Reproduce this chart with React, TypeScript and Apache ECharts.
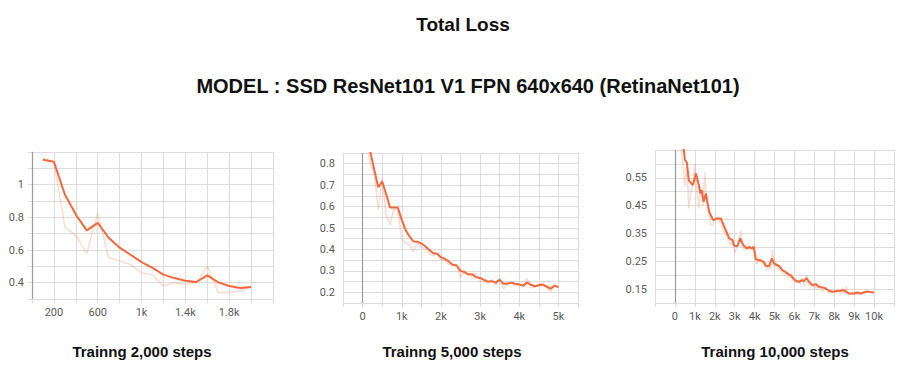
import React, { useEffect, useRef } from "react";
import * as echarts from "echarts";

const mainTitle = "Total Loss";
const modelTitle = "MODEL : SSD ResNet101 V1 FPN 640x640 (RetinaNet101)";
const subTitles = ["Trainng 2,000 steps", "Trainng 5,000 steps", "Trainng 10,000 steps"];

// Chart 1: 2,000 steps
const steps1 = [100, 200, 300, 400, 500, 600, 700, 800, 900, 1000, 1100, 1200, 1300, 1400, 1500, 1600, 1700, 1800, 1900, 2000];
const smooth1 = [1.152, 1.14, 0.94, 0.817, 0.72, 0.766, 0.675, 0.614, 0.571, 0.526, 0.49, 0.449, 0.428, 0.412, 0.404, 0.445, 0.402, 0.38, 0.368, 0.374];
const raw1 = [1.16, 1.14, 0.74, 0.69, 0.58, 0.825, 0.553, 0.535, 0.51, 0.46, 0.449, 0.38, 0.4, 0.39, 0.4, 0.5, 0.34, 0.34, 0.35, 0.375];

// Chart 2: 5,000 steps
const steps2 = [100, 200, 300, 400, 500, 600, 700, 800, 900, 1000, 1100, 1200, 1300, 1400, 1500, 1600, 1700, 1800, 1900, 2000, 2100, 2200, 2300, 2400, 2500, 2600, 2700, 2800, 2900, 3000, 3100, 3200, 3300, 3400, 3500, 3600, 3700, 3800, 3900, 4000, 4100, 4200, 4300, 4400, 4500, 4600, 4700, 4800, 4900, 5000];
const smooth2 = [0.93, 0.855, 0.77, 0.69, 0.717, 0.66, 0.596, 0.596, 0.596, 0.538, 0.49, 0.46, 0.437, 0.436, 0.428, 0.415, 0.398, 0.383, 0.38, 0.364, 0.356, 0.344, 0.328, 0.325, 0.3, 0.294, 0.284, 0.284, 0.27, 0.267, 0.258, 0.25, 0.252, 0.245, 0.258, 0.24, 0.24, 0.245, 0.24, 0.236, 0.231, 0.245, 0.235, 0.228, 0.233, 0.236, 0.227, 0.217, 0.23, 0.225];
const raw2 = [0.9, 0.8, 0.75, 0.585, 0.735, 0.56, 0.515, 0.59, 0.58, 0.45, 0.43, 0.42, 0.39, 0.43, 0.41, 0.4, 0.38, 0.37, 0.385, 0.35, 0.35, 0.33, 0.325, 0.33, 0.27, 0.3, 0.28, 0.27, 0.29, 0.25, 0.25, 0.24, 0.26, 0.235, 0.265, 0.215, 0.245, 0.24, 0.23, 0.24, 0.225, 0.265, 0.22, 0.225, 0.24, 0.235, 0.22, 0.205, 0.24, 0.22];

// Chart 3: 10,000 steps
const steps3 = [400, 500, 600, 700, 900, 1000, 1050, 1200, 1270, 1350, 1440, 1550, 1720, 1920, 2140, 2310, 2480, 2730, 2890, 2980, 3140, 3280, 3430, 3610, 3730, 3860, 3950, 4060, 4260, 4450, 4570, 4730, 4870, 4980, 5230, 5400, 5540, 5700, 5820, 5950, 6070, 6240, 6370, 6490, 6600, 6740, 6910, 7070, 7240, 7410, 7580, 7740, 7910, 8110, 8280, 8500, 8610, 8750, 9000, 9160, 9330, 9580, 9780, 10000];
const smooth3 = [0.68, 0.615, 0.605, 0.54, 0.524, 0.55, 0.566, 0.524, 0.494, 0.506, 0.464, 0.494, 0.428, 0.398, 0.404, 0.404, 0.374, 0.332, 0.326, 0.305, 0.305, 0.332, 0.308, 0.296, 0.302, 0.296, 0.302, 0.257, 0.254, 0.248, 0.233, 0.233, 0.26, 0.242, 0.233, 0.218, 0.212, 0.204, 0.2, 0.188, 0.18, 0.176, 0.182, 0.179, 0.19, 0.176, 0.164, 0.168, 0.158, 0.156, 0.152, 0.144, 0.14, 0.143, 0.144, 0.146, 0.14, 0.134, 0.134, 0.138, 0.134, 0.14, 0.14, 0.138];
const rawSteps3 = [300, 400, 500, 600, 700, 800, 900, 1000, 1100, 1200, 1300, 1400, 1500, 1600, 1700, 1800, 1900, 2000, 2100, 2200, 2300, 2400, 2500, 2600, 2700, 2800, 2900, 3000, 3100, 3200, 3300, 3400, 3500, 3600, 3700, 3800, 3900, 4000, 4100, 4200, 4300, 4400, 4500, 4600, 4700, 4800, 4900, 5000, 5100, 5200, 5300, 5400, 5500, 5600, 5700, 5800, 5900, 6000, 6100, 6200, 6300, 6400, 6500, 6600, 6700, 6800, 6900, 7000, 7100, 7200, 7300, 7400, 7500, 7600, 7700, 7800, 7900, 8000, 8100, 8200, 8300, 8400, 8500, 8600, 8700, 8800, 8900, 9000, 9100, 9200, 9300, 9400, 9500, 9600, 9700, 9800, 9900, 10000];
const raw3 = [0.66, 0.6, 0.52, 0.6, 0.44, 0.5, 0.52, 0.6, 0.5, 0.44, 0.52, 0.45, 0.57, 0.46, 0.43, 0.38, 0.38, 0.4, 0.41, 0.39, 0.4, 0.37, 0.35, 0.34, 0.32, 0.31, 0.33, 0.28, 0.3, 0.31, 0.36, 0.3, 0.29, 0.31, 0.29, 0.3, 0.29, 0.31, 0.24, 0.25, 0.26, 0.24, 0.24, 0.22, 0.23, 0.22, 0.29, 0.23, 0.24, 0.22, 0.22, 0.21, 0.2, 0.21, 0.19, 0.2, 0.18, 0.18, 0.17, 0.18, 0.17, 0.19, 0.16, 0.2, 0.17, 0.16, 0.17, 0.15, 0.17, 0.15, 0.16, 0.14, 0.15, 0.15, 0.14, 0.135, 0.14, 0.145, 0.135, 0.15, 0.13, 0.155, 0.13, 0.16, 0.13, 0.135, 0.13, 0.14, 0.13, 0.135, 0.13, 0.14, 0.135, 0.145, 0.14, 0.135, 0.14, 0.135];

const SMOOTH_COLOR = "#f2693d";
const RAW_COLOR = "rgba(245,125,90,0.28)";
const GRID_COLOR = "#dcdcdc";
const ZERO_COLOR = "#9a9a9a";
const LABEL_COLOR = "#5a5a5a";
const FONT = "Roboto, 'Liberation Sans', sans-serif";

const zip = (xs: number[], ys: number[]) => xs.map((x, i) => [x, ys[i]]);

const kFmt = (v: number) => (Math.abs(v) >= 1000 ? `${v / 1000}k` : `${v}`);

export default function App() {
  const ref = useRef<HTMLDivElement>(null);
  useEffect(() => {
    if (!ref.current) return;
    const chart = echarts.init(ref.current, undefined, { renderer: "svg" });

    const grids = [
      { left: 32, top: 152, width: 241, height: 147 },
      { left: 343, top: 153, width: 235, height: 150 },
      { left: 655, top: 150, width: 239, height: 153 },
    ];

    const xDefs = [
      { min: 0, max: 2200, interval: 200, fmt: (v: number) => (v <= 2000 && v % 400 === 200 ? kFmt(v) : "") },
      { min: -500, max: 5500, interval: 500, fmt: (v: number) => (v >= 0 && v <= 5000 && v % 1000 === 0 ? kFmt(v) : "") },
      { min: -1000, max: 11000, interval: 1000, fmt: (v: number) => (v >= 0 && v <= 10000 ? kFmt(v) : "") },
    ];
    const yDefs = [
      {
        min: 0.3, max: 1.2, interval: 0.1,
        fmt: (v: number) => { const r = Math.round(v * 10); return r % 2 === 0 && r >= 4 && r <= 10 ? String(r / 10) : ""; },
      },
      {
        min: 0.15, max: 0.85, interval: 0.05,
        fmt: (v: number) => { const r = Math.round(v * 20); return r % 2 === 0 ? String(r / 20) : ""; },
      },
      {
        min: 0.1, max: 0.65, interval: 0.05,
        fmt: (v: number) => { const r = Math.round(v * 20); return r % 2 === 1 && r <= 11 ? (r / 20).toFixed(2) : ""; },
      },
    ];

    const xAxis = xDefs.map((d, i) => ({
      type: "value",
      gridIndex: i,
      min: d.min,
      max: d.max,
      interval: d.interval,
      axisLine: { show: true, lineStyle: { color: GRID_COLOR, width: 1 } },
      axisTick: { show: true, length: 4, lineStyle: { color: GRID_COLOR } },
      splitLine: { show: true, lineStyle: { color: GRID_COLOR, width: 1 } },
      axisLabel: { color: LABEL_COLOR, fontSize: 11, fontFamily: FONT, margin: 8, formatter: d.fmt, showMinLabel: true, showMaxLabel: true },
    }));
    const yAxis = yDefs.map((d, i) => ({
      type: "value",
      gridIndex: i,
      min: d.min,
      max: d.max,
      interval: d.interval,
      axisLine: { show: true, lineStyle: { color: GRID_COLOR, width: 1 } },
      axisTick: { show: true, length: 4, lineStyle: { color: GRID_COLOR } },
      splitLine: { show: true, lineStyle: { color: GRID_COLOR, width: 1 } },
      axisLabel: { color: LABEL_COLOR, fontSize: 11, fontFamily: FONT, margin: 8, formatter: d.fmt, showMinLabel: true, showMaxLabel: true },
    }));

    const rawData = [zip(steps1, raw1), zip(steps2, raw2), zip(rawSteps3, raw3)];
    const smoothData = [zip(steps1, smooth1), zip(steps2, smooth2), zip(steps3, smooth3)];

    const series: any[] = [];
    for (let i = 0; i < 3; i++) {
      series.push({
        type: "line",
        xAxisIndex: i,
        yAxisIndex: i,
        data: rawData[i],
        showSymbol: false,
        symbol: "none",
        clip: true,
        lineStyle: { color: RAW_COLOR, width: 1.5 },
        z: 2,
        markLine: {
          silent: true,
          symbol: "none",
          label: { show: false },
          lineStyle: { color: ZERO_COLOR, width: 1.2, type: "solid" },
          data: [{ xAxis: 0 }],
        },
      });
      series.push({
        type: "line",
        xAxisIndex: i,
        yAxisIndex: i,
        data: smoothData[i],
        showSymbol: false,
        symbol: "none",
        clip: true,
        lineStyle: { color: SMOOTH_COLOR, width: 2 },
        z: 3,
      });
    }

    const centers = [142, 452, 775];
    const textEls: any[] = [
      {
        type: "text", x: 463, y: 24,
        style: { text: mainTitle, font: `bold 19px 'Liberation Sans', Arial, sans-serif`, fill: "#111", textAlign: "center", textVerticalAlign: "middle" },
      },
      {
        type: "text", x: 468, y: 86,
        style: { text: modelTitle, font: `bold 20px 'Liberation Sans', Arial, sans-serif`, fill: "#111", textAlign: "center", textVerticalAlign: "middle" },
      },
      ...subTitles.map((t, i) => ({
        type: "text", x: centers[i], y: 351,
        style: { text: t, font: `bold 15px 'Liberation Sans', Arial, sans-serif`, fill: "#111", textAlign: "center", textVerticalAlign: "middle" },
      })),
    ];

    chart.setOption({
      animation: false,
      backgroundColor: "#ffffff",
      grid: grids,
      xAxis,
      yAxis,
      series,
      graphic: { elements: textEls },
    });

    return () => chart.dispose();
  }, []);

  return (
    <div
      ref={ref}
      style={{ position: "fixed", left: 0, top: 0, width: 907, height: 371, background: "#fff" }}
    />
  );
}
